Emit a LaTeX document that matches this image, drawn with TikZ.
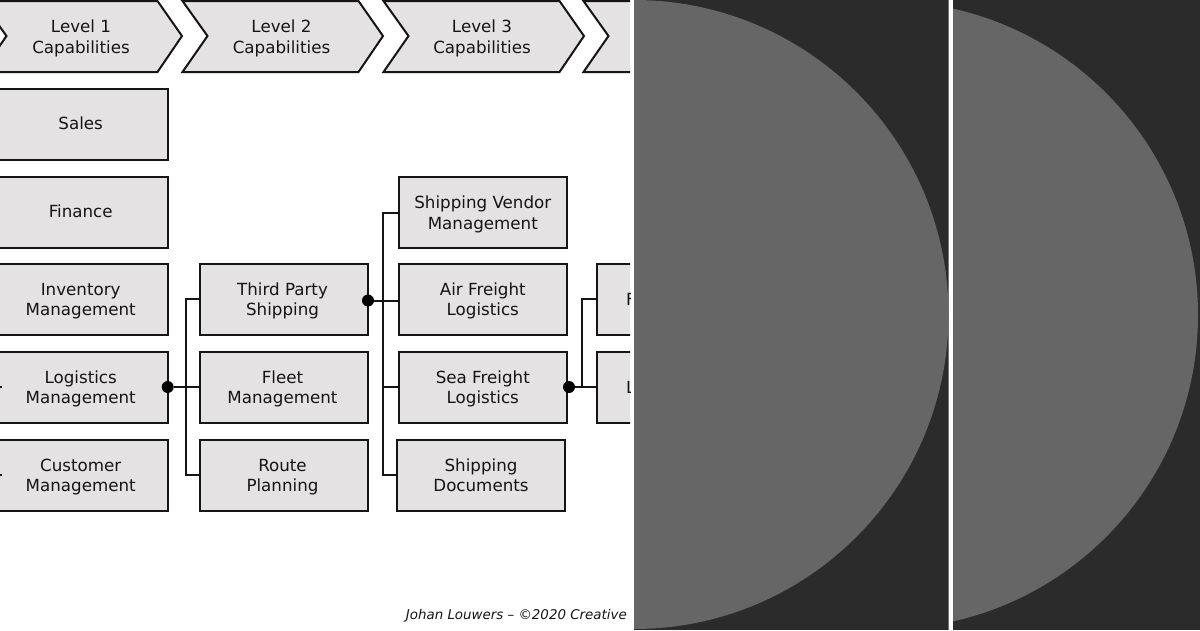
\documentclass[tikz,border=0pt]{standalone}
\usepackage{fontspec}
\setmainfont{DejaVu Sans}
\definecolor{boxfill}{HTML}{E4E2E3}
\definecolor{ink}{HTML}{151515}
\definecolor{panel}{HTML}{2B2B2B}
\definecolor{disc}{HTML}{666666}
\tikzset{
  two/.style={text height=37pt, text depth=4pt},
  one/.style={text height=14pt, text depth=4pt},
  box/.style={draw=ink, fill=boxfill, line width=2pt, outer sep=0pt, inner sep=0pt,
    minimum width=168pt, minimum height=71pt, align=center, text=ink,
    font=\fontsize{16.7}{20.5}\selectfont},
  chev/.style={draw=ink, fill=boxfill, line width=2pt, line join=miter},
  lbl/.style={align=center, text=ink, font=\fontsize{16.7}{20.5}\selectfont},
  link/.style={draw=ink, line width=2pt},
  dot/.style={circle, fill=black, inner sep=0pt, minimum size=12pt},
}
\begin{document}
\begin{tikzpicture}[x=1pt, y=-1pt]
\useasboundingbox (0,0) rectangle (1200,630);
\fill[white] (0,0) rectangle (1200,630);

% left part, cut off at the white strip
\begin{scope}
\clip (0,0) rectangle (630,630);

% header chevrons
\foreach \cx in {-18.5, 182.5, 383.5, 583.5} {
  \draw[chev] (\cx,1) -- ++(176,0) -- ++(24.5,35) -- ++(-24.5,36) -- ++(-176,0) -- ++(25,-36) -- cycle;
}
\node[lbl, two] (cap1) at (81,36.5) {Level 1\\Capabilities};
\node[lbl, two] (cap2) at (281.5,36.5) {Level 2\\Capabilities};
\node[lbl, two] (cap3) at (482,36.5) {Level 3\\Capabilities};

% level 1 column
\node[box, one, minimum width=174pt] (sales) at (80.7,124.5) {Sales};
\node[box, one, minimum width=174pt] (finance) at (80.7,212.5) {Finance};
\node[box, two, minimum width=174pt] (inventory) at (80.7,299) {Inventory\\Management};
\node[box, two, minimum width=174pt] (logistics) at (80.7,387) {Logistics\\Management};
\node[box, two, minimum width=174pt] (customer) at (80.7,475) {Customer\\Management};

% level 2 column
\node[box, two] (third) at (284,299) {\kern-3pt Third Party\\\kern-3pt Shipping};
\node[box, two] (fleet) at (284,387) {\kern-3pt Fleet\\\kern-3pt Management};
\node[box, two] (route) at (284,475) {\kern-3pt Route\\\kern-3pt Planning};

% level 3 column
\node[box, two] (vendor) at (482.8,212.5) {Shipping Vendor\\Management};
\node[box, two] (air) at (482.8,299) {Air Freight\\Logistics};
\node[box, two] (sea) at (482.8,387) {Sea Freight\\Logistics};
\node[box, two] (docs) at (481,475) {Shipping\\Documents};

% level 4 column, only its first letters are left
\node[box] (upper) at (681,299) {};
\node[box] (lower) at (681,387) {};
\node[lbl, anchor=base west, inner sep=0pt] (upperT) at (626,305.5) {F};
\node[lbl, anchor=base west, inner sep=0pt] (lowerT) at (626,393) {L};

% connectors
\coordinate (stubA) at (-8,387);
\coordinate (stubB) at (-8,475);
\coordinate (stubAend) at (1.5,387);
\coordinate (stubBend) at (1.5,475);
\draw[link] (stubA) -- (stubAend);
\draw[link] (stubB) -- (stubBend);

\node[dot] (dotL) at (logistics.east) {};
\node[dot] (dotT) at (368,300.5) {};
\node[dot] (dotS) at (569,387) {};

\draw[link] (dotL) -- (fleet.west);
\draw[link] (dotL) -- ++(18.5,0) |- (third.west);
\draw[link] (dotL) -- ++(18.5,0) |- (route.west);
\draw[link] (dotT) -- (dotT -| air.west);
\draw[link] (dotT) -- ++(15,0) |- (vendor.west);
\draw[link] (dotT) -- ++(15,0) |- (sea.west);
\draw[link] (dotT) -- ++(15,0) |- (docs.west);
\draw[link] (dotS) -- (lower.west);
\draw[link] (dotS) -- ++(13,0) |- (upper.west);

\node[anchor=base east, inner sep=0pt, text=ink, font=\fontsize{13.4}{15}\selectfont\itshape] (credit) at (627,619) {Johan Louwers – ©2020 Creative};
\end{scope}

% dark panels with the grey discs
\begin{scope}
\clip (634,0) rectangle (948.5,630);
\fill[panel] (634,0) rectangle (948.5,630);
\fill[disc] (634,314.5) circle[radius=314.5];
\end{scope}
\begin{scope}
\clip (953,0) rectangle (1200,630);
\fill[panel] (953,0) rectangle (1200,630);
\fill[disc] (884,315) circle[radius=314];
\end{scope}
\end{tikzpicture}
\end{document}
